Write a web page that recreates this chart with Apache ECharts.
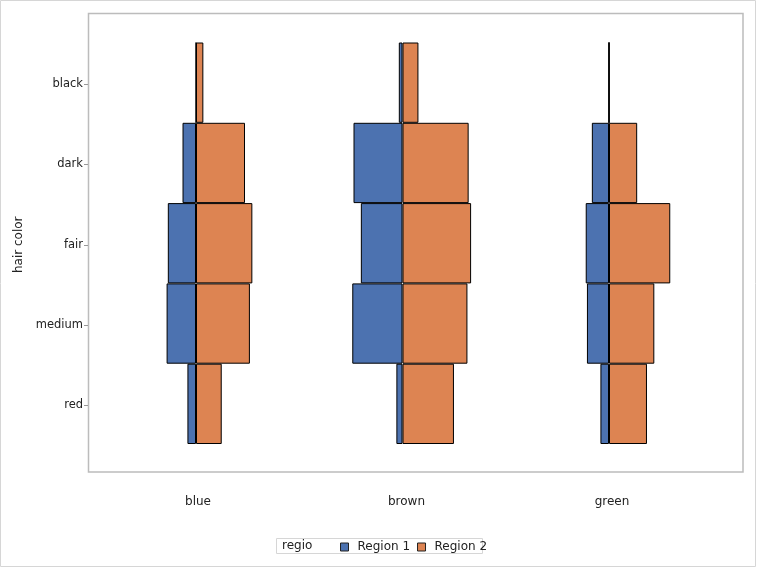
<!DOCTYPE html>
<html>
<head>
<meta charset="utf-8">
<script src="https://cdn.jsdelivr.net/npm/echarts@6/dist/echarts.min.js"></script>
<style>html,body{margin:0;padding:0;background:#fff}#c{width:757px;height:568px}</style>
</head>
<body>
<div id="c"></div>
<script>
const hairColors = ['black', 'dark', 'fair', 'medium', 'red'];
const eyeColors = ['blue', 'brown', 'green'];
const seriesNames = ['Region 1', 'Region 2'];
// counts per hair color (black, dark, fair, medium, red)
const region1Blue  = [0, 11, 23, 24, 7];
const region1Brown = [3, 40, 34, 41, 5];
const region1Green = [0, 14, 19, 18, 7];
const region2Blue  = [6, 40, 46, 44, 21];
const region2Brown = [13, 54, 56, 53, 42];
const region2Green = [0, 23, 50, 37, 31];

const region1 = [region1Blue, region1Brown, region1Green];
const region2 = [region2Blue, region2Brown, region2Green];

const FONT = 'DejaVu Sans';
const colors = ['#4C72B0', '#DD8452'];
const centers = [196, 402.5, 609];
const labelShift = [2, 4, 3];
const halfW = 98;
const gridTop = 42.5, gridH = 401.5;

const grids = [], xAxes = [], yAxes = [], series = [];
eyeColors.forEach((eye, i) => {
  grids.push({ left: centers[i] - halfW, width: halfW * 2, top: gridTop, height: gridH, containLabel: false });
  xAxes.push({
    type: 'value', gridIndex: i, min: -80, max: 80,
    name: eye, nameLocation: 'middle', nameGap: 52,
    nameTextStyle: { fontFamily: FONT, fontSize: 12, color: '#222', padding: [0, 0, 0, labelShift[i] * 2] },
    axisLine: { show: false }, axisTick: { show: false }, axisLabel: { show: false }, splitLine: { show: false }
  });
  yAxes.push({
    type: 'category', gridIndex: i, data: hairColors, inverse: true, show: false
  });
  series.push({
    name: seriesNames[0], type: 'bar', xAxisIndex: i, yAxisIndex: i,
    data: region1[i].map(v => -v), barWidth: '100%', barGap: '-100%',
    itemStyle: { color: colors[0], borderColor: '#000', borderWidth: 1 },
    silent: true
  });
  series.push({
    name: seriesNames[1], type: 'bar', xAxisIndex: i, yAxisIndex: i,
    data: region2[i], barWidth: '100%', barGap: '-100%',
    itemStyle: { color: colors[1], borderColor: '#000', borderWidth: 1 },
    silent: true
  });
});
// full-width grid carrying the hair color axis
grids.push({ left: 88, right: 14, top: gridTop + 1.5, height: gridH, containLabel: false });
xAxes.push({ type: 'value', gridIndex: 3, show: false, min: 0, max: 1 });
yAxes.push({
  type: 'category', gridIndex: 3, data: hairColors, inverse: true,
  name: 'hair color', nameLocation: 'middle', nameGap: 58, nameRotate: 90,
  nameTextStyle: { fontFamily: FONT, fontSize: 12, color: '#222' },
  axisLine: { show: false, onZero: false },
  axisTick: { show: true, alignWithLabel: true, length: 4, lineStyle: { color: '#999' } },
  axisLabel: { fontFamily: FONT, fontSize: 11.5, color: '#222', margin: 5 },
  splitLine: { show: false }
});

const chart = echarts.init(document.getElementById('c'), null, { renderer: 'canvas' });
chart.setOption({
  animation: false,
  color: colors,
  grid: grids, xAxis: xAxes, yAxis: yAxes, series: series,
  legend: {
    data: seriesNames, left: 335, top: 536,
    itemWidth: 8, itemHeight: 8, itemGap: 7, icon: 'rect',
    itemStyle: { borderColor: '#222', borderWidth: 1 },
    textStyle: { fontFamily: FONT, fontSize: 12, color: '#222', padding: [0, 0, 0, 4] },
    selectedMode: false
  },
  graphic: [
    { type: 'rect', silent: true, z: -1, shape: { x: 0.5, y: 0.5, width: 755, height: 566 }, style: { fill: 'none', stroke: '#d6d6d6', lineWidth: 1 } },
    { type: 'rect', silent: true, z: 0, shape: { x: 88.5, y: 13.5, width: 654.5, height: 458.5 }, style: { fill: 'none', stroke: '#bcbcbc', lineWidth: 1.5 } },
    { type: 'rect', silent: true, z: 0, shape: { x: 276.5, y: 538.5, width: 206, height: 15 }, style: { fill: 'none', stroke: '#d6d6d6', lineWidth: 1 } },
    { type: 'text', silent: true, z: 1, left: 282, top: 540, style: { text: 'region', width: 35, overflow: 'truncate', ellipsis: '', font: '12px "DejaVu Sans"', fill: '#222' } }
  ]
});
</script>
</body>
</html>
